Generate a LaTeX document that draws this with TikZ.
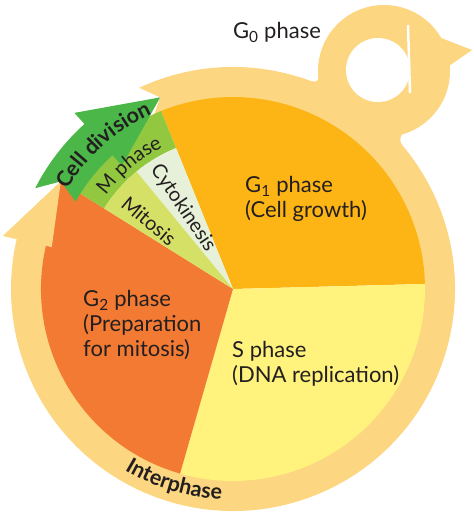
\documentclass[tikz,border=0pt]{standalone}
\usepackage{fontspec}
\setmainfont{Lato}
\usetikzlibrary{decorations.text}

\definecolor{ringc}{HTML}{FCD680}
\definecolor{gonec}{HTML}{FDB515}
\definecolor{sphc}{HTML}{FFF27D}
\definecolor{gtwoc}{HTML}{F37A32}
\definecolor{mitc}{HTML}{D4E066}
\definecolor{cytc}{HTML}{E7F0D9}
\definecolor{mphc}{HTML}{92C740}
\definecolor{divc}{HTML}{4BB749}
\definecolor{inkc}{HTML}{231F20}

\newcommand{\arcbold}{\bfseries\fontsize{21.5}{21.5}\selectfont}
\newcommand{\arcreg}{\fontsize{20}{20}\selectfont}

\begin{document}
\begin{tikzpicture}[
    x=1pt, y=1pt,
    phaselbl/.style={
        inner sep=0pt,
        anchor=north west,
        align=left,
        text=inkc,
        font=\fontsize{22}{25}\selectfont
    },
    wedgelbl/.style={
        inner sep=0pt,
        text=inkc,
        font=\fontsize{20}{20}\selectfont
    },
    bent/.style={
        decorate,
        decoration={text along path, text align=center, text color=inkc, text={#1}}
    }
]
\useasboundingbox (0,0) rectangle (474,523);

% G0 loop joined to the ring
\coordinate (hole) at (378,453);
\coordinate (loopout) at (384,452);
\fill[ringc] (loopout) circle[radius=66];
\fill[ringc] (297.9,446.3) .. controls (319.4,438.5) .. (318.3,457.8) -- (loopout) -- (233,234) -- cycle;
\fill[ringc] (410.3,367.6) .. controls (394.0,386.7) .. (434.6,409.6) -- (loopout) -- (233,234) -- cycle;
\fill[white] (hole) circle[radius=32];
\fill[ringc] (408,498) -- (472,473) -- (410,430) -- cycle;
\draw[white, line width=2.5pt] (408,498) -- (410,430);

\begin{scope}[shift={(233,234)}]
% interphase ring
\fill[ringc] (115:222) arc[start angle=115, end angle=-193, radius=222]
    -- (-193:236) -- (-212:203) -- (-193:186)
    -- (-193:189) arc[start angle=-193, end angle=115, radius=189]
    -- (110.8:205) -- cycle;

% pie
\fill[gonec] (0,0) -- (1.5:192) arc[start angle=1.5, end angle=112, radius=192] -- cycle;
\fill[sphc] (0,0) -- (-106:192) arc[start angle=-106, end angle=1.5, radius=192] -- cycle;
\fill[gtwoc] (0,0) -- (148:203) -- (167:192) arc[start angle=167, end angle=254, radius=192] -- cycle;
\fill[mphc] (112:152) arc[start angle=112, end angle=148, radius=152]
    -- (148:192) arc[start angle=148, end angle=112, radius=192] -- cycle;
\fill[cytc] (0,0) -- (112:152) arc[start angle=112, end angle=129.4, radius=152] -- cycle;
\fill[mitc] (0,0) -- (129.4:152) arc[start angle=129.4, end angle=148, radius=152] -- cycle;

% cell division arrow
\fill[divc] (153:222) arc[start angle=153, end angle=132, radius=222]
    -- (132:237) -- (110.8:205) -- (132:166)
    -- (132:180) arc[start angle=132, end angle=151, radius=180]
    -- (148:203) -- cycle;
\fill[ringc] (167:236) -- (148:203) -- (167:186) -- cycle;

% curved labels
\path[bent={|\arcbold|Interphase}] (-134:211) arc[start angle=-134, end angle=-80, radius=211];
\path[bent={|\arcbold|Cell division}] (156:193) arc[start angle=156, end angle=108, radius=193];
\path[bent={|\arcreg|M phase}] (147:158) arc[start angle=147, end angle=113, radius=158];
\end{scope}

\node[text=inkc, font=\fontsize{22}{25}\selectfont] (gzero) at (277,491) {G\textsubscript{0} phase};
\node[phaselbl] (gone) at (245,346.5) {G\textsubscript{1} phase\\(Cell growth)};
\node[phaselbl] (gtwo) at (83,232.5) {G\textsubscript{2} phase\\(Preparation\\for mitosis)};
\node[phaselbl] (sph) at (232,181.5) {S phase\\(DNA replication)};
\node[wedgelbl, rotate=-40] (mit) at (149,302) {Mitosis};
\node[wedgelbl, rotate=-56] (cyt) at (183,315) {Cytokinesis};

\end{tikzpicture}
\end{document}
